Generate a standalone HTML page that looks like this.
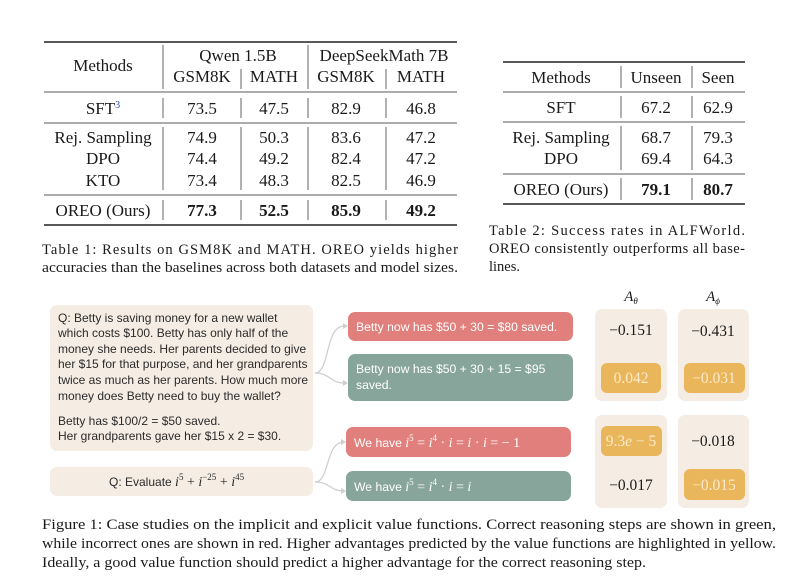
<!DOCTYPE html>
<html><head><meta charset="utf-8"><style>
html,body{margin:0;padding:0;background:#fff;}
svg{display:block;}
.s{font-family:"Liberation Serif",serif;fill:#1a1a1a;}
.t{font-size:17px;}
.b{font-weight:bold;}
.ss{font-family:"Liberation Sans","NanumGothic",sans-serif;font-size:12px;fill:#2a2a2a;}
.w{font-family:"Liberation Sans","NanumGothic",sans-serif;font-size:12.2px;fill:#fff;}
.cap{font-family:"Liberation Serif",serif;font-size:14.5px;fill:#1a1a1a;}
</style></head><body>
<svg width="800" height="587" viewBox="0 0 800 587" xmlns="http://www.w3.org/2000/svg">
<g class="s t" text-anchor="middle">
  <line x1="44" y1="42" x2="457" y2="42" stroke="#222" stroke-width="1.4"/>
  <line x1="44" y1="92" x2="457" y2="92" stroke="#222" stroke-width="0.8"/>
  <line x1="44" y1="123" x2="457" y2="123" stroke="#222" stroke-width="0.8"/>
  <line x1="44" y1="195" x2="457" y2="195" stroke="#222" stroke-width="0.8"/>
  <line x1="44" y1="225" x2="457" y2="225" stroke="#222" stroke-width="1.4"/>
  <g stroke="#222" stroke-width="0.7">
    <line x1="163" y1="45" x2="163" y2="89"/><line x1="308" y1="45" x2="308" y2="89"/>
    <line x1="241" y1="69" x2="241" y2="89"/><line x1="386" y1="69" x2="386" y2="89"/>
    <line x1="163" y1="98" x2="163" y2="118"/><line x1="241" y1="98" x2="241" y2="118"/><line x1="308" y1="98" x2="308" y2="118"/><line x1="386" y1="98" x2="386" y2="118"/>
    <line x1="163" y1="127" x2="163" y2="190"/><line x1="241" y1="127" x2="241" y2="190"/><line x1="308" y1="127" x2="308" y2="190"/><line x1="386" y1="127" x2="386" y2="190"/>
    <line x1="163" y1="200" x2="163" y2="220"/><line x1="241" y1="200" x2="241" y2="220"/><line x1="308" y1="200" x2="308" y2="220"/><line x1="386" y1="200" x2="386" y2="220"/>
  </g>
  <text x="103" y="71">Methods</text>
  <text x="238" y="61">Qwen 1.5B</text>
  <text x="384" y="61">DeepSeekMath 7B</text>
  <text x="202" y="82">GSM8K</text><text x="274" y="82">MATH</text><text x="346" y="82">GSM8K</text><text x="421" y="82">MATH</text>
  <text x="103" y="114">SFT<tspan font-size="10" dy="-6" fill="#2a3fb0">3</tspan></text>
  <text x="202" y="114">73.5</text><text x="274" y="114">47.5</text><text x="346" y="114">82.9</text><text x="421" y="114">46.8</text>
  <text x="103" y="143">Rej. Sampling</text><text x="202" y="143">74.9</text><text x="274" y="143">50.3</text><text x="346" y="143">83.6</text><text x="421" y="143">47.2</text>
  <text x="103" y="164">DPO</text><text x="202" y="164">74.4</text><text x="274" y="164">49.2</text><text x="346" y="164">82.4</text><text x="421" y="164">47.2</text>
  <text x="103" y="186">KTO</text><text x="202" y="186">73.4</text><text x="274" y="186">48.3</text><text x="346" y="186">82.5</text><text x="421" y="186">46.9</text>
  <text x="103" y="216">OREO (Ours)</text>
  <text x="202" y="216" class="b">77.3</text><text x="274" y="216" class="b">52.5</text><text x="346" y="216" class="b">85.9</text><text x="421" y="216" class="b">49.2</text>
</g>
<text class="cap" x="42" y="254" textLength="416" lengthAdjust="spacing">Table 1: Results on GSM8K and MATH. OREO yields higher</text>
<text class="cap" x="42" y="272" textLength="416" lengthAdjust="spacingAndGlyphs">accuracies than the baselines across both datasets and model sizes.</text>

<g class="s t" text-anchor="middle">
  <line x1="503" y1="62" x2="745" y2="62" stroke="#222" stroke-width="1.4"/>
  <line x1="503" y1="92" x2="745" y2="92" stroke="#222" stroke-width="0.8"/>
  <line x1="503" y1="122" x2="745" y2="122" stroke="#222" stroke-width="0.8"/>
  <line x1="503" y1="174" x2="745" y2="174" stroke="#222" stroke-width="0.8"/>
  <line x1="503" y1="204" x2="745" y2="204" stroke="#222" stroke-width="1.4"/>
  <g stroke="#222" stroke-width="0.7">
    <line x1="621" y1="66" x2="621" y2="88"/><line x1="692" y1="66" x2="692" y2="88"/>
    <line x1="621" y1="96" x2="621" y2="118"/><line x1="692" y1="96" x2="692" y2="118"/>
    <line x1="621" y1="126" x2="621" y2="170"/><line x1="692" y1="126" x2="692" y2="170"/>
    <line x1="621" y1="178" x2="621" y2="200"/><line x1="692" y1="178" x2="692" y2="200"/>
  </g>
  <text x="561" y="83">Methods</text><text x="656" y="83">Unseen</text><text x="718" y="83">Seen</text>
  <text x="561" y="113">SFT</text><text x="656" y="113">67.2</text><text x="718" y="113">62.9</text>
  <text x="561" y="143">Rej. Sampling</text><text x="656" y="143">68.7</text><text x="718" y="143">79.3</text>
  <text x="561" y="164">DPO</text><text x="656" y="164">69.4</text><text x="718" y="164">64.3</text>
  <text x="561" y="195">OREO (Ours)</text><text x="656" y="195" class="b">79.1</text><text x="718" y="195" class="b">80.7</text>
</g>
<text class="cap" x="489" y="235" textLength="256" lengthAdjust="spacing">Table 2:  Success rates in ALFWorld.</text>
<text class="cap" x="489" y="253" textLength="256" lengthAdjust="spacing">OREO consistently outperforms all base-</text>
<text class="cap" x="489" y="271">lines.</text>

<g>
  <rect x="50" y="305" width="263" height="146" rx="7" fill="#F5EDE4"/>
  <g class="ss">
    <text x="58" y="322">Q: Betty is saving money for a new wallet</text>
    <text x="58" y="337">which costs $100. Betty has only half of the</text>
    <text x="58" y="353">money she needs. Her parents decided to give</text>
    <text x="58" y="368">her $15 for that purpose, and her grandparents</text>
    <text x="58" y="384">twice as much as her parents. How much more</text>
    <text x="58" y="400">money does Betty need to buy the wallet?</text>
    <text x="58" y="425">Betty has $100/2 = $50 saved.</text>
    <text x="58" y="440">Her grandparents gave her $15 x 2 = $30.</text>
  </g>
  <rect x="50" y="467" width="263" height="29" rx="7" fill="#F5EDE4"/>
  <text class="ss" x="109" y="486">Q: Evaluate <tspan font-family="Liberation Serif" font-style="italic" font-size="14">i</tspan><tspan font-family="Liberation Serif" font-size="9" dy="-6">5</tspan><tspan font-family="Liberation Serif" font-size="14" dy="6"> + </tspan><tspan font-family="Liberation Serif" font-style="italic" font-size="14">i</tspan><tspan font-family="Liberation Serif" font-size="9" dy="-6">−25</tspan><tspan font-family="Liberation Serif" font-size="14" dy="6"> + </tspan><tspan font-family="Liberation Serif" font-style="italic" font-size="14">i</tspan><tspan font-family="Liberation Serif" font-size="9" dy="-6">45</tspan></text>

  <g fill="none" stroke="#cfcfcf" stroke-width="1.3">
    <path d="M315 373 C330 373 325 326 344 326"/><path d="M315 373 C330 373 330 383 344 383"/>
    <path d="M315 482 C330 482 325 442 344 442"/><path d="M315 482 C330 482 330 491 344 491"/>
  </g>
  <g fill="#cfcfcf"><path d="M348 326 l-5 -3 v6z"/><path d="M348 383 l-5 -3 v6z"/><path d="M346 442 l-5 -3 v6z"/><path d="M346 491 l-5 -3 v6z"/></g>

  <rect x="348" y="312" width="225" height="29" rx="7" fill="#E07F7B"/>
  <text class="w" x="356" y="331">Betty now has $50 + 30 = $80 saved.</text>
  <rect x="348" y="354" width="225" height="47" rx="7" fill="#88A59C"/>
  <text class="w" x="356" y="373">Betty now has $50 + 30 + 15 = $95</text>
  <text class="w" x="356" y="389">saved.</text>
  <rect x="346" y="427" width="225" height="30" rx="7" fill="#E07F7B"/>
  <text class="w" x="354" y="447">We have <tspan font-family="Liberation Serif" font-size="14"><tspan font-style="italic">i</tspan><tspan font-size="9" dy="-6">5</tspan><tspan dy="6"> = </tspan><tspan font-style="italic">i</tspan><tspan font-size="9" dy="-6">4</tspan><tspan dy="6"> · </tspan><tspan font-style="italic">i</tspan> = <tspan font-style="italic">i</tspan> · <tspan font-style="italic">i</tspan> = − 1</tspan></text>
  <rect x="346" y="471" width="225" height="30" rx="7" fill="#88A59C"/>
  <text class="w" x="354" y="491">We have <tspan font-family="Liberation Serif" font-size="14"><tspan font-style="italic">i</tspan><tspan font-size="9" dy="-6">5</tspan><tspan dy="6"> = </tspan><tspan font-style="italic">i</tspan><tspan font-size="9" dy="-6">4</tspan><tspan dy="6"> · </tspan><tspan font-style="italic">i</tspan> = <tspan font-style="italic">i</tspan></tspan></text>

  <text class="s" x="631" y="301" font-size="15" text-anchor="middle"><tspan font-style="italic">A</tspan><tspan font-size="9" dy="3" font-style="italic">θ</tspan></text>
  <text class="s" x="713" y="301" font-size="15" text-anchor="middle"><tspan font-style="italic">A</tspan><tspan font-size="9" dy="3" font-style="italic">ϕ</tspan></text>

  <rect x="595" y="309" width="72" height="92" rx="7" fill="#F5EDE4"/>
  <rect x="678" y="309" width="71" height="92" rx="7" fill="#F5EDE4"/>
  <rect x="595" y="415" width="72" height="93" rx="7" fill="#F5EDE4"/>
  <rect x="678" y="415" width="71" height="93" rx="7" fill="#F5EDE4"/>
  <rect x="601" y="363" width="60" height="30" rx="6" fill="#E9B65B"/>
  <rect x="684" y="363" width="61" height="30" rx="6" fill="#E9B65B"/>
  <rect x="601" y="426" width="61" height="30" rx="6" fill="#E9B65B"/>
  <rect x="684" y="469" width="61" height="31" rx="6" fill="#E9B65B"/>
  <g class="s" font-size="15.5" text-anchor="middle">
    <text x="631" y="335">−0.151</text><text x="713" y="336">−0.431</text>
    <text x="631" y="383" style="fill:#FBEACB">0.042</text><text x="714" y="383" style="fill:#FBEACB">−0.031</text>
    <text x="631" y="446" style="fill:#FBEACB">9.3<tspan font-style="italic">e</tspan> − 5</text><text x="713" y="446">−0.018</text>
    <text x="631" y="490">−0.017</text><text x="714" y="490" style="fill:#FBEACB">−0.015</text>
  </g>
</g>
<text class="cap" x="42" y="529" textLength="734" lengthAdjust="spacingAndGlyphs">Figure 1: Case studies on the implicit and explicit value functions. Correct reasoning steps are shown in green,</text>
<text class="cap" x="42" y="548" textLength="734" lengthAdjust="spacingAndGlyphs">while incorrect ones are shown in red. Higher advantages predicted by the value functions are highlighted in yellow.</text>
<text class="cap" x="42" y="567" textLength="604" lengthAdjust="spacingAndGlyphs">Ideally, a good value function should predict a higher advantage for the correct reasoning step.</text>
</svg>
</body></html>
